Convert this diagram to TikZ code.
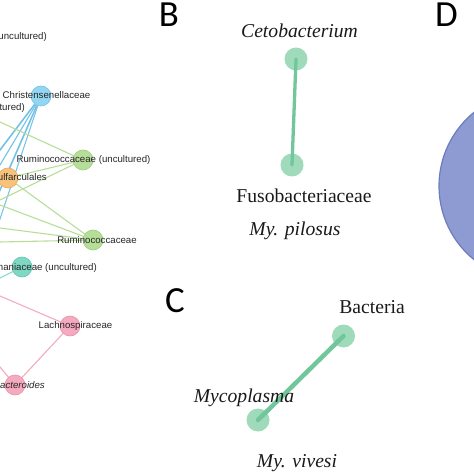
\documentclass[tikz,border=0pt]{standalone}
\usepackage{fontspec}
\setmainfont{Liberation Serif}
\newfontfamily\labelfont{Liberation Sans}
\newfontfamily\panelfont{Carlito}
\usetikzlibrary{positioning}
\usetikzlibrary{backgrounds}

\definecolor{chrblue}{HTML}{93D6F2}
\definecolor{chrblueD}{HTML}{74C2E6}
\definecolor{rumgreen}{HTML}{B6DE99}
\definecolor{rumgreenD}{HTML}{9CCD7C}
\definecolor{desorange}{HTML}{F7C37C}
\definecolor{desorangeD}{HTML}{E5A95C}
\definecolor{oscteal}{HTML}{7FD8C3}
\definecolor{oscttealD}{HTML}{5FC4AC}
\definecolor{lacpink}{HTML}{F5AABF}
\definecolor{lacpinkD}{HTML}{E592A9}
\definecolor{otumint}{HTML}{8ED4AE}
\definecolor{otuedge}{HTML}{72C69B}
\definecolor{bigblue}{HTML}{8E9BD2}
\definecolor{bigblueD}{HTML}{6C7CBE}

\tikzset{
  taxlabel/.style={anchor=base,inner sep=0pt,font=\labelfont\fontsize{9.7}{11}\selectfont,text=black!85},
  otulabel/.style={anchor=base,inner sep=0pt,font=\fontsize{19.7}{22}\selectfont,text=black!90},
  panel/.style={anchor=base,inner sep=0pt,font=\panelfont\fontsize{37}{40}\selectfont}
}

\begin{document}
\begin{tikzpicture}[x=1bp,y=-1bp]
\useasboundingbox (0,0) rectangle (474,474);
\clip (0,0) rectangle (474,474);

% A: network (cut at the left edge)
\begin{scope}[every node/.style={circle,draw,line width=0.6bp,minimum size=20bp,inner sep=0pt}]
    \node[fill=chrblue,draw=chrblueD] (Chr) at (41,96) {};
    \node[fill=rumgreen,draw=rumgreenD] (RumU) at (83,160) {};
    \node[fill=desorange,draw=desorangeD] (Des) at (8,178) {};
    \node[fill=rumgreen,draw=rumgreenD] (Rum) at (93,240) {};
    \node[fill=oscteal,draw=oscttealD] (Osc) at (22,267) {};
    \node[fill=lacpink,draw=lacpinkD] (Lac) at (70,326) {};
    \node[fill=lacpink,draw=lacpinkD] (Bac) at (15,385) {};
\end{scope}
% partners lying outside the picture
\coordinate (h1) at (-41,204);
\coordinate (h2) at (-41,234);
\coordinate (h3) at (-41,284);
\coordinate (h4) at (-41,342);
\coordinate (h5) at (-83,84);
\coordinate (h6) at (-83,240);
\coordinate (h7) at (-93,170);
\coordinate (h8) at (-93,216);
\coordinate (h9) at (-93,244);
\coordinate (h10) at (-22,289);
\coordinate (h11) at (-70,266);
\coordinate (h12) at (-15,349);
\begin{scope}[on background layer,every edge/.style={draw,line width=1.1bp}]
    \path [-] (Chr) edge[draw=chrblueD,line width=1.6bp] (h1);
    \path [-] (Chr) edge[draw=chrblueD] (h2);
    \path [-] (Chr) edge[draw=chrblueD,line width=1.6bp] (h3);
    \path [-] (Chr) edge[draw=chrblueD] (h4);
    \path [-] (RumU) edge[draw=rumgreen] (h5);
    \path [-] (RumU) edge[draw=rumgreen] (Des);
    \path [-] (RumU) edge[draw=rumgreen] (h6);
    \path [-] (Rum) edge[draw=rumgreen] (Des);
    \path [-] (Rum) edge[draw=rumgreen] (h7);
    \path [-] (Rum) edge[draw=rumgreen] (h8);
    \path [-] (Rum) edge[draw=rumgreen] (h9);
    \path [-] (Osc) edge[draw=oscteal] (h10);
    \path [-] (Lac) edge[draw=lacpink] (h11);
    \path [-] (Lac) edge[draw=lacpink] (Bac);
    \path [-] (Bac) edge[draw=lacpink] (h12);
\end{scope}
\node[taxlabel,anchor=base east] (uncL) at (47,40) {(uncultured)};
\node[taxlabel] (ChrL) at (46.5,99) {Christensenellaceae};
\node[taxlabel,anchor=base east] (turL) at (25,111) {tured)};
\node[taxlabel] (RumUL) at (83.5,163) {Ruminococcaceae (uncultured)};
\node[taxlabel,anchor=base east] (DesL) at (47,181) {ulfarculales};
\node[taxlabel] (RumL) at (97,243) {Ruminococcaceae};
\node[taxlabel,anchor=base east] (OscL) at (97,270) {naniaceae (uncultured)};
\node[taxlabel] (LacL) at (75.5,328) {Lachnospiraceae};
\node[taxlabel,anchor=base east] (BacL) at (45,388) {\itshape acteroides};

% B and C: pairs
\begin{scope}[every node/.style={circle,fill=otumint,fill opacity=0.85,minimum size=23bp,inner sep=0pt}]
    \node (Ceto) at (296,59) {};
    \node (Fuso) at (292,165) {};
    \node (Bact) at (343.5,336) {};
    \node (Myco) at (258,420) {};
\end{scope}
\begin{scope}[every edge/.style={draw=otuedge,line cap=round}]
    \path [-] (Ceto.center) edge[line width=3.3bp] (Fuso.center);
    \path [-] (Bact.center) edge[line width=4.5bp] (Myco.center);
\end{scope}
\node[otulabel] (CetoL) at (299.5,38) {\itshape Cetobacterium};
\node[otulabel] (FusoL) at (304,203) {Fusobacteriaceae};
\node[otulabel] (pilL) at (295,236) {\itshape My. pilosus};
\node[otulabel] (BactL) at (372,313) {Bacteria};
\node[otulabel] (MycoL) at (244,402) {\itshape Mycoplasma};
\node[otulabel] (vivL) at (297,467) {\itshape My. vivesi};

% D
\node[circle,fill=bigblue,draw=bigblueD,line width=1.2bp,minimum size=190bp,inner sep=0pt] (Big) at (534,186) {};

% panel letters
\node[panel] (pB) at (169,26.5) {B};
\node[panel] (pC) at (175,312) {C};
\node[panel] (pD) at (446.5,27) {D};
\end{tikzpicture}
\end{document}
